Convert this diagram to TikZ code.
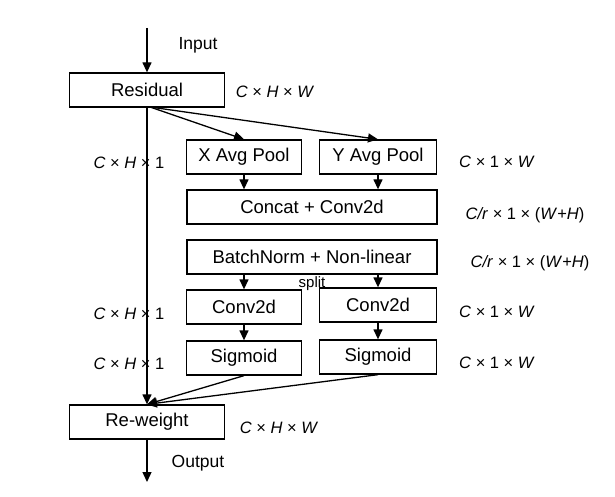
\documentclass[tikz,border=0pt]{standalone}
\usepackage{fontspec}
\setmainfont{Liberation Sans}
\usetikzlibrary{arrows.meta}
\begin{document}
\begin{tikzpicture}[x=1pt,y=-1pt,
  box/.style={draw,line width=1.3pt,minimum height=34pt,inner sep=0pt,font=\fontsize{18.5}{21}\selectfont},
  dim/.style={font=\fontsize{16.5}{19}\selectfont},
  arr/.style={line width=1.3pt,-{Triangle[width=9pt,length=10pt]}}]
\useasboundingbox (0,0) rectangle (615,497);
\node[box,minimum width=155pt] (res) at (147,90) {Residual};
\node[box,minimum width=115pt] (xp) at (244,157) {X Avg Pool};
\node[box,minimum width=117pt] (yp) at (378,157) {Y Avg Pool};
\node[box,minimum width=250pt] (cat) at (312,207) {Concat + Conv2d};
\node[box,minimum width=250pt] (bn) at (312,257) {BatchNorm + Non-linear};
\node[font=\fontsize{15}{17}\selectfont] (split) at (312,284) {split};
\node[box,minimum width=115pt] (c1) at (244,307) {Conv2d};
\node[box,minimum width=117pt] (c2) at (378,305) {Conv2d};
\node[box,minimum width=115pt] (s1) at (244,358) {Sigmoid};
\node[box,minimum width=117pt] (s2) at (378,357) {Sigmoid};
\node[box,minimum width=155pt] (rw) at (147,422) {Re-weight};
\coordinate (in) at (147,28);
\coordinate (out) at (147,482);
\coordinate (fork) at (150,107);
\node[font=\fontsize{17.5}{20}\selectfont] (tin) at (198,45) {Input};
\node[font=\fontsize{17.5}{20}\selectfont] (tout) at (198,463) {Output};
\node[dim] (d1) at (275,92) {\textit{C} × \textit{H} × \textit{W}};
\node[dim] (d2) at (129,163) {\textit{C} × \textit{H} × 1};
\node[dim] (d3) at (497,162) {\textit{C} × 1 × \textit{W}};
\node[dim] (d4) at (525,215) {\textit{C/r} × 1 × (\textit{W}+\textit{H})};
\node[dim] (d5) at (530,263) {\textit{C/r} × 1 × (\textit{W}+\textit{H})};
\node[dim] (d6) at (129,314) {\textit{C} × \textit{H} × 1};
\node[dim] (d7) at (497,312) {\textit{C} × 1 × \textit{W}};
\node[dim] (d8) at (129,364) {\textit{C} × \textit{H} × 1};
\node[dim] (d9) at (497,363) {\textit{C} × 1 × \textit{W}};
\node[dim] (d10) at (279,428) {\textit{C} × \textit{H} × \textit{W}};
\draw[arr] (in) -- (res.north);
\draw[arr] (res.south) -- (rw.north);
\draw[arr] (fork) -- (xp.north);
\draw[arr] (fork) -- (yp.north);
\draw[arr] (xp) -- (xp|-cat.north);
\draw[arr] (yp) -- (yp|-cat.north);
\draw[arr] (c1|-bn.south) -- (c1);
\draw[arr] (c2|-bn.south) -- (c2);
\draw[arr] (c1) -- (s1);
\draw[arr] (c2) -- (s2);
\draw[arr] (s1.south) -- (rw.north);
\draw[arr] (s2.south) -- (rw.north);
\draw[arr] (rw.south) -- (out);
\end{tikzpicture}
\end{document}
